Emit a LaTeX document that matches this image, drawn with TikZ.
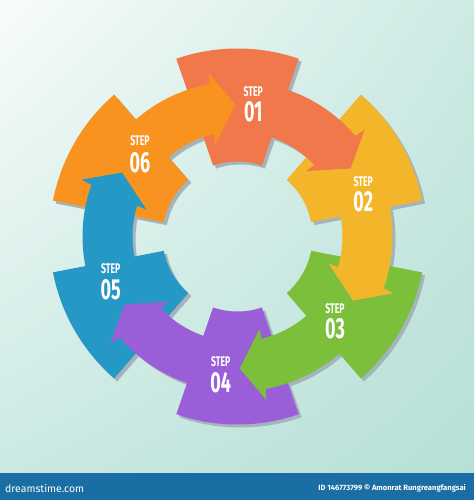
\documentclass[tikz,border=0pt]{standalone}
\usepackage{fontspec}
\setmainfont{Fira Sans}
\usepackage{graphicx}
\usetikzlibrary{shadings}
\definecolor{cA}{HTML}{F0784B}
\definecolor{cB}{HTML}{F3B52A}
\definecolor{cC}{HTML}{7CBF3A}
\definecolor{cD}{HTML}{9A5ED8}
\definecolor{cE}{HTML}{2698C6}
\definecolor{cF}{HTML}{F7931E}
\definecolor{shadowc}{HTML}{A3B5BA}
\definecolor{bgTL}{HTML}{F8FCFC}
\definecolor{bgTR}{HTML}{CDEAE3}
\definecolor{bgBL}{HTML}{CBE9E2}
\definecolor{bgBR}{HTML}{B6E0D6}
\definecolor{bannerc}{HTML}{1A6EA3}
\tikzset{
  blk/.style={insert path={({#1+19}:188) arc[start angle={#1+19}, end angle={#1-19}, radius=188]
     -- ({#1-19}:75) arc[start angle={#1-19}, end angle={#1+19}, radius=75] -- cycle}},
  arw/.style={insert path={({#1-15}:155) arc[start angle={#1-15}, end angle={#1-49.5}, radius=155]
     -- ({#1-50}:166) -- ({#1-59}:132) -- ({#1-46.5}:95)
     -- ({#1-47}:105) arc[start angle={#1-47}, end angle={#1-15}, radius=105] -- cycle}},
  shd/.style={fill=shadowc, shift={(3,-3)}},
  steplbl/.style={text=white, inner sep=0pt, font=\bfseries\fontsize{14}{14}\selectfont},
  numlbl/.style={text=white, inner sep=0pt, font=\bfseries\fontsize{29}{29}\selectfont},
}
\newcommand\cnd[1]{\scalebox{0.62}[1]{#1}}
\begin{document}
\begin{tikzpicture}[x=1pt,y=1pt]
\useasboundingbox (0,0) rectangle (474,500);
\shade[upper left=bgTL, upper right=bgTR, lower left=bgBL, lower right=bgBR] (0,27) rectangle (474,500);
\fill[bannerc] (0,0) rectangle (474,27);
\begin{scope}[shift={(237.5,263.5)}]
  % shadows
  \foreach \c in {90,30,-30,-90,-150,150} {
    \path[shd, blk=\c];
    \path[shd, arw=\c];
  }
  % blocks
  \path[fill=cA, blk=90];
  \path[fill=cB, blk=30];
  \path[fill=cC, blk=-30];
  \path[fill=cD, blk=-90];
  \path[fill=cE, blk=-150];
  \path[fill=cF, blk=150];
  % arrows
  \path[fill=cA, arw=90];
  \path[fill=cB, arw=30];
  \path[fill=cC, arw=-30];
  \path[fill=cD, arw=-90];
  \path[fill=cE, arw=-150];
  \path[fill=cF, arw=150];
\end{scope}
% labels
\node[steplbl] (s1) at (253.3,408.3) {\cnd{STEP}};
\node[numlbl]  (n1) at (253.3,388.3) {\cnd{01}};
\node[steplbl] (s2) at (363.3,318.3) {\cnd{STEP}};
\node[numlbl]  (n2) at (363.3,298.3) {\cnd{02}};
\node[steplbl] (s3) at (335,191.7) {\cnd{STEP}};
\node[numlbl]  (n3) at (335,171.7) {\cnd{03}};
\node[steplbl] (s4) at (220.7,138.3) {\cnd{STEP}};
\node[numlbl]  (n4) at (220.7,117.3) {\cnd{04}};
\node[steplbl] (s5) at (110.7,231) {\cnd{STEP}};
\node[numlbl]  (n5) at (110.7,210) {\cnd{05}};
\node[steplbl] (s6) at (140,359) {\cnd{STEP}};
\node[numlbl]  (n6) at (140,337.3) {\cnd{06}};
% banner
\node[anchor=west, text=white, inner sep=0pt, font=\fontsize{10.5}{11}\selectfont] (logo) at (5,12) {dreamstime.com};
\node[anchor=east, text=white, inner sep=0pt, font=\bfseries\fontsize{7.6}{8}\selectfont] (credit) at (466,12) {ID 146773799 © Amonrat Rungreangfangsai};
\end{tikzpicture}
\end{document}
